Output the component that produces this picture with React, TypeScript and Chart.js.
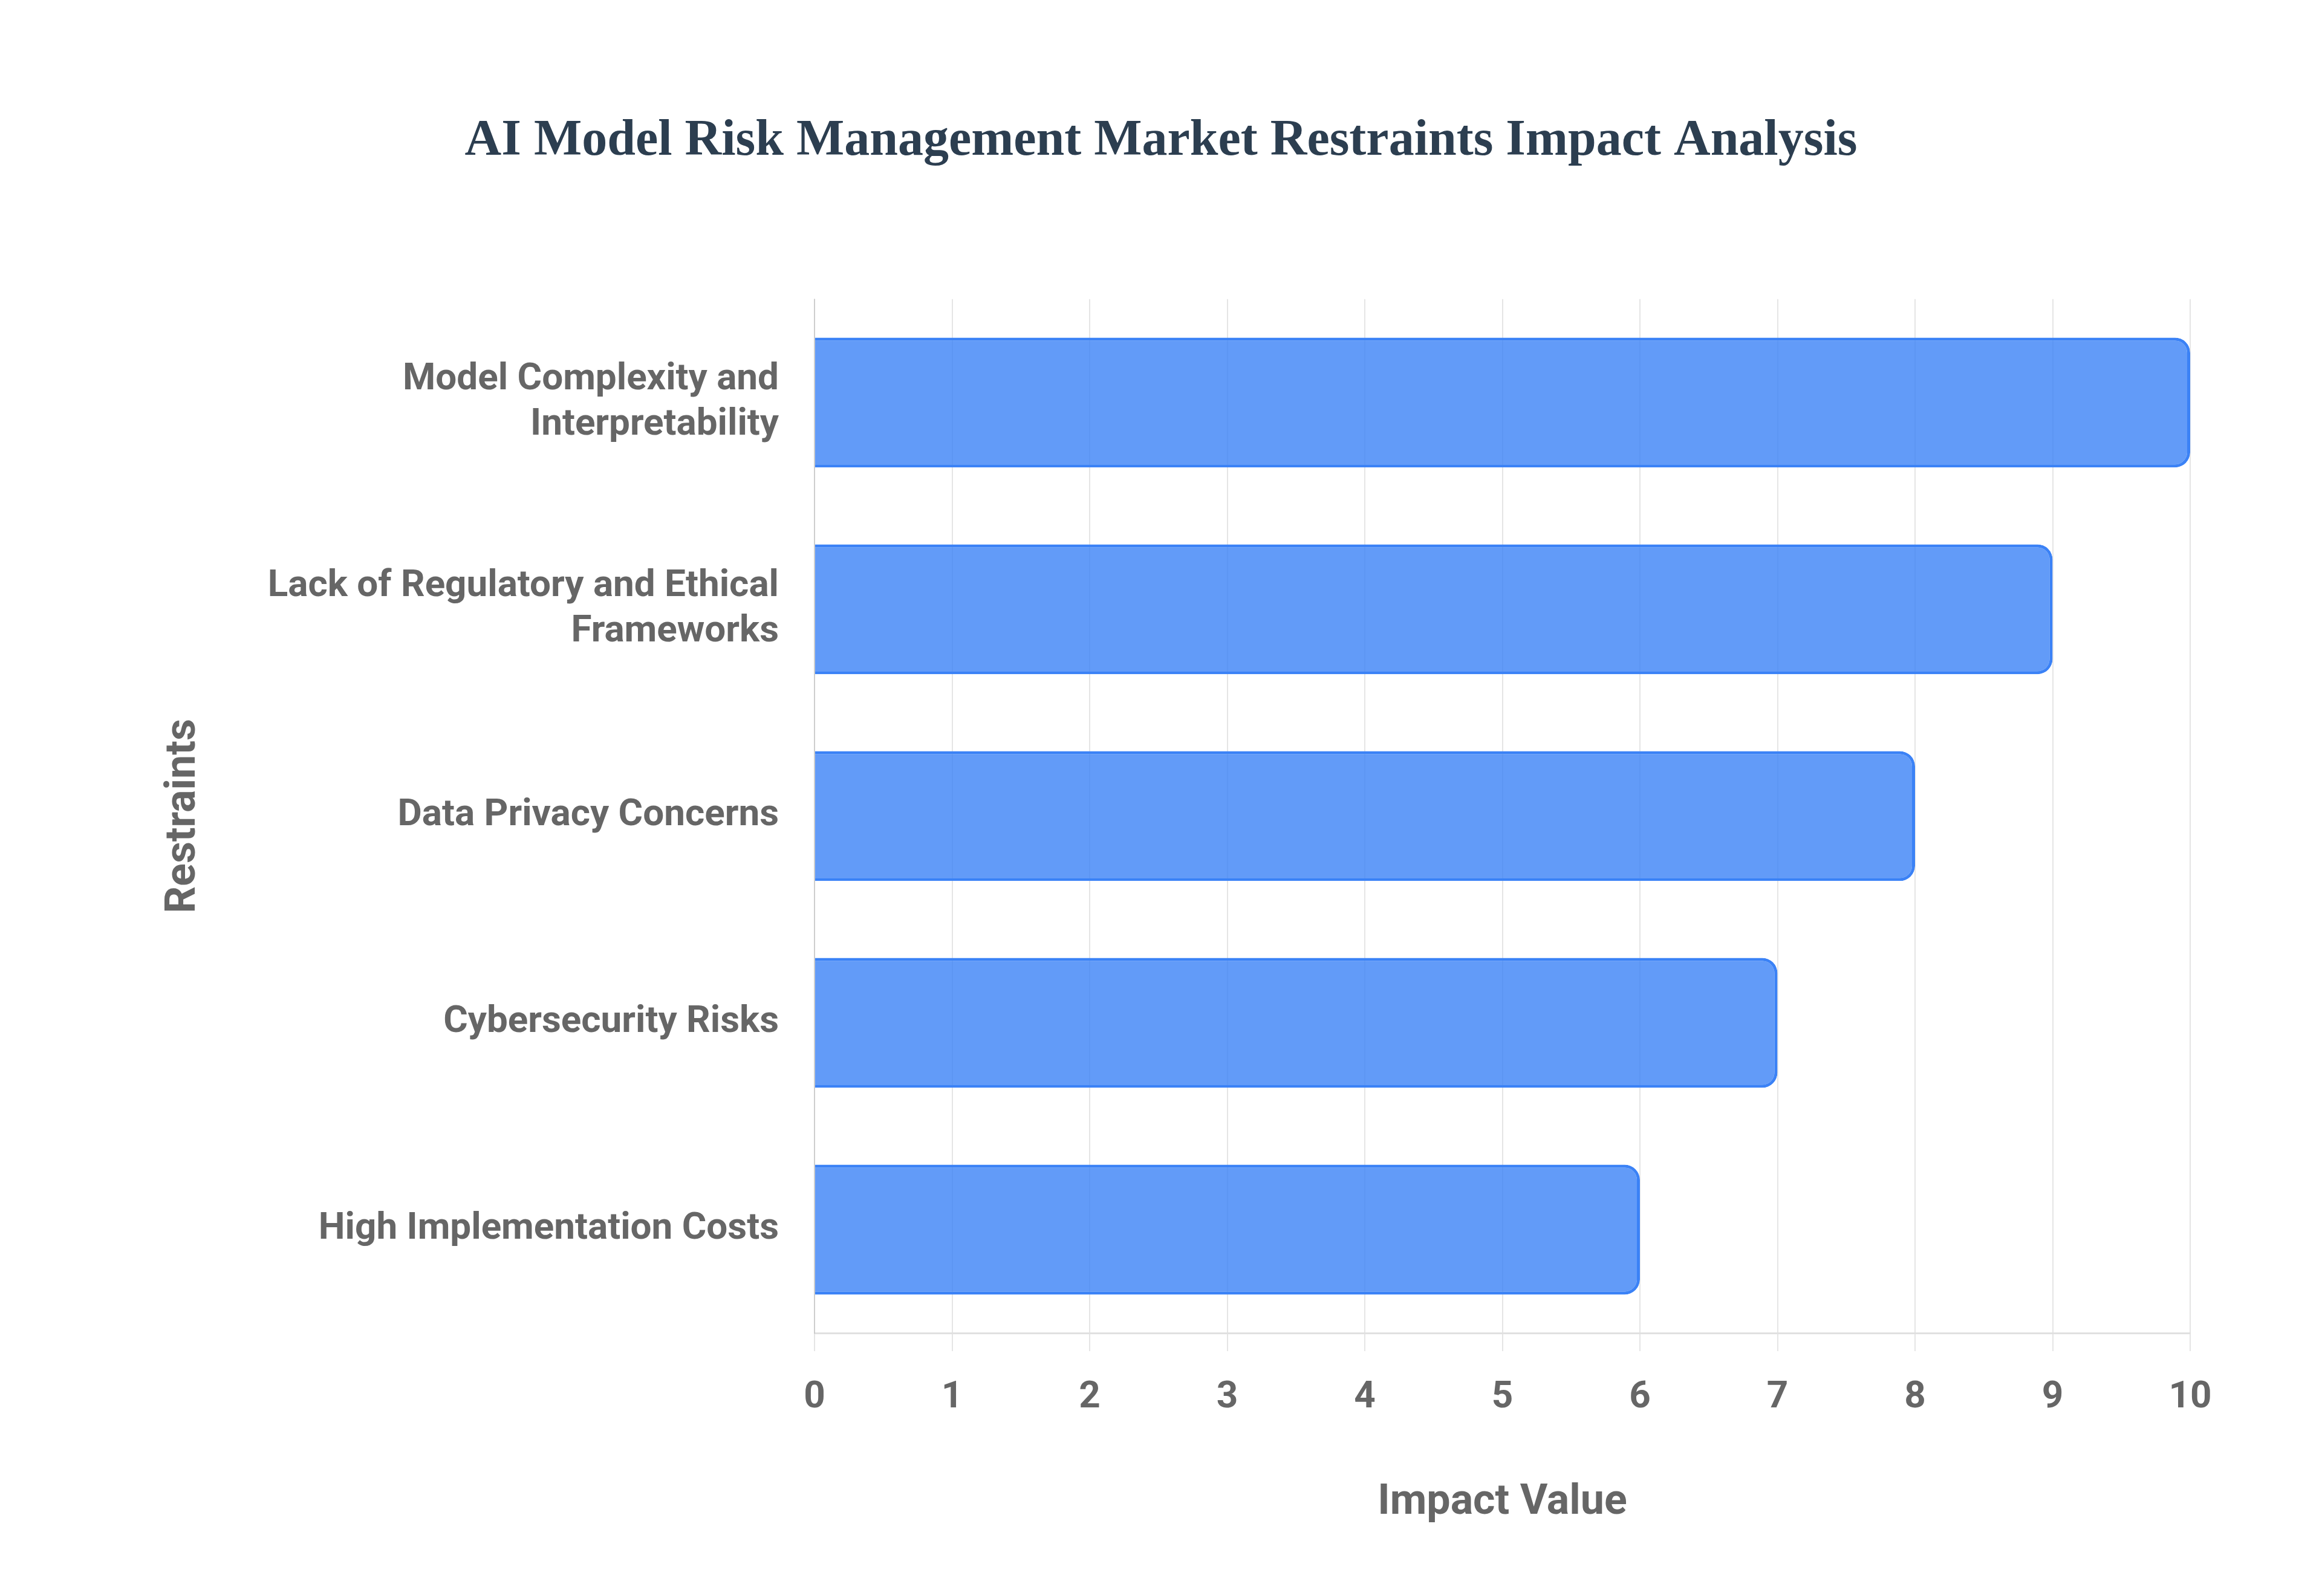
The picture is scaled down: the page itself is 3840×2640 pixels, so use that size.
import { useEffect, useRef } from "react";
import { Chart, registerables } from "chart.js";

Chart.register(...registerables);

const CATEGORIES: (string | string[])[] = [
  ["Model Complexity and", "Interpretability"],
  ["Lack of Regulatory and Ethical", "Frameworks"],
  "Data Privacy Concerns",
  "Cybersecurity Risks",
  "High Implementation Costs",
];

const IMPACT_VALUES = [10, 9, 8, 7, 6];

const TITLE = "AI Model Risk Management Market Restraints Impact Analysis";
const X_TITLE = "Impact Value";
const Y_TITLE = "Restraints";

const W = 3840;
const H = 2640;
const SANS = "Roboto, 'Liberation Sans', Arial, sans-serif";
const LABEL_COLOR = "#666666";
const GRID_COLOR = "rgba(0, 0, 0, 0.1)";

export default function App() {
  const canvasRef = useRef<HTMLCanvasElement>(null);
  const chartRef = useRef<Chart | null>(null);

  useEffect(() => {
    if (!canvasRef.current || chartRef.current) return;

    chartRef.current = new Chart(canvasRef.current, {
      type: "bar",
      data: {
        labels: CATEGORIES,
        datasets: [
          {
            label: "Impact Value",
            data: IMPACT_VALUES,
            backgroundColor: "rgba(59, 130, 246, 0.8)",
            borderColor: "#3b82f6",
            borderWidth: 5,
            borderRadius: 25,
            borderSkipped: "start",
            categoryPercentage: 0.8,
            barPercentage: 0.785,
          },
        ],
      },
      options: {
        indexAxis: "y",
        responsive: true,
        maintainAspectRatio: false,
        animation: false,
        devicePixelRatio: 1,
        layout: { padding: 0 },
        plugins: {
          legend: { display: false },
          tooltip: { enabled: false },
          title: {
            display: true,
            text: TITLE,
            color: "#2c3e50",
            font: {
              family: "'Liberation Serif', 'Times New Roman', serif",
              size: 84,
              weight: "bold",
            },
            padding: { top: 184, bottom: 210 },
          },
        },
        scales: {
          x: {
            min: 0,
            max: 10,
            ticks: {
              stepSize: 1,
              color: LABEL_COLOR,
              padding: 40,
              font: { family: SANS, size: 62, weight: "bold" },
            },
            grid: {
              color: GRID_COLOR,
              lineWidth: 2,
              tickLength: 30,
            },
            border: { color: "rgba(0, 0, 0, 0.12)", width: 3 },
            title: {
              display: true,
              text: X_TITLE,
              color: LABEL_COLOR,
              font: { family: SANS, size: 70, weight: "bold" },
              padding: { top: 0, bottom: 112 },
            },
            afterFit: (scale) => {
              scale.height = 435;
            },
          },
          y: {
            ticks: {
              color: LABEL_COLOR,
              padding: 59,
              font: { family: SANS, size: 62, weight: "bold" },
            },
            grid: { display: false, drawTicks: false },
            border: { color: GRID_COLOR, width: 2 },
            title: {
              display: true,
              text: Y_TITLE,
              color: LABEL_COLOR,
              font: { family: SANS, size: 70, weight: "bold" },
              padding: { top: 262, bottom: 0 },
            },
            afterFit: (scale) => {
              scale.width = 1347;
            },
          },
          // empty right-hand axis that only keeps the plot clear of the right edge
          yRight: {
            type: "category",
            position: "right",
            grid: { display: false, drawTicks: false },
            border: { display: false },
            ticks: { display: false },
            afterFit: (scale) => {
              scale.width = 218;
            },
          },
        },
      },
    });

    return () => {
      chartRef.current?.destroy();
      chartRef.current = null;
    };
  }, []);

  return (
    <div
      style={{
        position: "absolute",
        left: 0,
        top: 0,
        width: W,
        height: H,
        background: "#ffffff",
      }}
    >
      <canvas ref={canvasRef} />
    </div>
  );
}
